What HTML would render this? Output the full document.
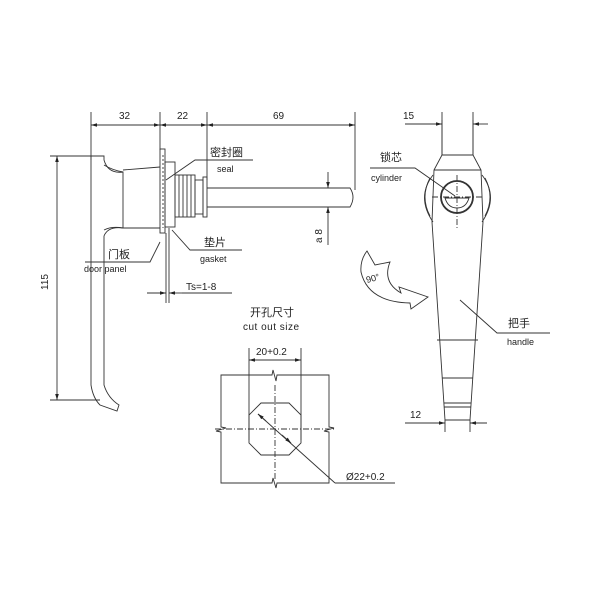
<!DOCTYPE html>
<html><head><meta charset="utf-8"><style>
html,body{margin:0;padding:0;background:#fff;}
svg{display:block;}
text{font-family:"Liberation Sans","Noto Sans CJK SC",sans-serif;fill:#222;}
</style></head><body>
<svg width="600" height="600" viewBox="0 0 600 600" xmlns="http://www.w3.org/2000/svg">
<defs>
<marker id="a" viewBox="0 0 10 6" refX="10" refY="3" markerWidth="10" markerHeight="4" orient="auto-start-reverse"><path d="M0,0 L10,3 L0,6 Z" fill="#222"/></marker>
</defs>
<g stroke="#333" stroke-width="0.9" fill="none">
<line x1="91" y1="112" x2="91" y2="160"/>
<line x1="160" y1="112" x2="160" y2="150"/>
<line x1="207" y1="112" x2="207" y2="180"/>
<line x1="355" y1="112" x2="355" y2="190"/>
<line x1="91" y1="125" x2="160" y2="125" marker-start="url(#a)" marker-end="url(#a)"/>
<line x1="160" y1="125" x2="207" y2="125" marker-start="url(#a)" marker-end="url(#a)"/>
<line x1="207" y1="125" x2="355" y2="125" marker-start="url(#a)" marker-end="url(#a)"/>
<line x1="50" y1="156" x2="92" y2="156"/>
<line x1="50" y1="400" x2="100" y2="400"/>
<line x1="57" y1="156" x2="57" y2="400" marker-start="url(#a)" marker-end="url(#a)"/>
<path d="M91,156 L91,385 Q93,398 100,405 L117,411 L119,405 Q108,398 104,385 L104,236 Q108,226 123,228 L123,172 Q108,174 104,160 L104,156 Z"/>
<path d="M104,165 Q112,170 123,172"/>
<path d="M104,230 Q112,226 123,228"/>
<path d="M123,170 L160,167 M123,228 L160,228"/>
<rect x="160" y="149" width="5" height="84"/>
<line x1="163" y1="155" x2="163" y2="228" stroke-dasharray="2,2"/>
<line x1="166" y1="233" x2="166" y2="303"/>
<line x1="169" y1="228" x2="169" y2="303"/>
<rect x="165" y="162" width="10" height="65"/>
<rect x="175" y="175" width="20" height="42"/>
<line x1="179" y1="175" x2="179" y2="217"/><line x1="183" y1="175" x2="183" y2="217"/>
<line x1="187" y1="175" x2="187" y2="217"/><line x1="191" y1="175" x2="191" y2="217"/>
<rect x="195" y="180" width="8" height="34"/>
<rect x="203" y="177" width="4" height="40"/>
<path d="M207,188 L350,188 Q356,197 350,207 L207,207"/>
<line x1="328" y1="172" x2="328" y2="188" marker-end="url(#a)"/>
<line x1="328" y1="245" x2="328" y2="207" marker-end="url(#a)"/>
<line x1="147" y1="293" x2="166" y2="293" marker-end="url(#a)"/>
<line x1="182" y1="293" x2="169" y2="293" marker-end="url(#a)"/>
<line x1="182" y1="293" x2="232" y2="293"/>
<path d="M253,160 L195,160 L166,180" /><path d="M242,250 L190,250 L172,230"/>
<path d="M85,262 L150,262 L160,242"/>
<path d="M370,168 L415,168 L455,196"/>
<path d="M550,333 L497,333 L460,300"/>
<line x1="442" y1="112" x2="442" y2="155"/>
<line x1="473" y1="112" x2="473" y2="155"/>
<line x1="405" y1="124" x2="442" y2="124"/>
<line x1="430" y1="124" x2="442" y2="124" marker-end="url(#a)"/>
<line x1="488" y1="124" x2="473" y2="124" marker-end="url(#a)"/>
<path d="M442,120 L442,155 L473,155 L473,120"/>
<path d="M442,155 L434,170 L432,222 L445,420 L470,420 L483,222 L481,170 L473,155"/>
<line x1="434" y1="170" x2="481" y2="170"/>
<path d="M433,175 Q416,197 433,222 M482,175 Q499,197 482,222"/>
<path d="M430,178 Q420,197 430,216 M485,178 Q495,197 485,216"/>
<circle cx="457" cy="197" r="16" stroke-width="1.8"/>
<path d="M445,198 L469,198 Q466,208 457,208 Q448,208 445,198 Z"/>
<line x1="457" y1="175" x2="457" y2="228" stroke-dasharray="6,2,1,2"/>
<line x1="432" y1="197" x2="482" y2="197" stroke-dasharray="6,2,1,2"/>
<line x1="437" y1="340" x2="478" y2="340"/>
<line x1="442" y1="378" x2="473" y2="378"/>
<line x1="444" y1="403" x2="471" y2="403"/>
<line x1="444" y1="407" x2="471" y2="407"/>
<line x1="445" y1="420" x2="445" y2="432"/><line x1="470" y1="420" x2="470" y2="432"/>
<line x1="405" y1="423" x2="445" y2="423"/>
<line x1="430" y1="423" x2="445" y2="423" marker-end="url(#a)"/>
<line x1="487" y1="423" x2="470" y2="423" marker-end="url(#a)"/>
<path d="M367,251 L375,265 L390,262 Q382,282 401,293 L399,287 L428,297 L411,309 L410,303 Q368,302 361,272 Q360,260 367,251 Z"/>
<line x1="249" y1="348" x2="249" y2="440"/>
<line x1="301" y1="348" x2="301" y2="440"/>
<line x1="249" y1="360" x2="301" y2="360" marker-start="url(#a)" marker-end="url(#a)"/>
<path d="M221,375 L272,375 L273,370 L276,381 L277,375 L329,375 L329,427 L334,428 L324,431 L329,432 L329,483 L277,483 L276,488 L273,478 L272,483 L221,483 L221,432 L216,431 L226,428 L221,427 Z"/>
<line x1="275" y1="385" x2="275" y2="480" stroke-dasharray="6,2,1,2"/>
<line x1="215" y1="429" x2="335" y2="429" stroke-dasharray="6,2,1,2"/>
<path d="M261,403 L289,403 L301,415 L301,443 L289,455 L261,455 L249,443 L249,415 Z"/>
<line x1="258" y1="414" x2="335" y2="483" />
<line x1="335" y1="483" x2="395" y2="483"/>
<line x1="266" y1="421" x2="258" y2="414" marker-end="url(#a)"/>
<line x1="282" y1="435" x2="291" y2="443" marker-end="url(#a)"/>
</g>
<g font-size="10">
<text x="119" y="119">32</text>
<text x="177" y="119">22</text>
<text x="273" y="119">69</text>
<text x="403" y="119">15</text>
<text x="410" y="418">12</text>
<text x="210" y="156" font-size="11">密封圈</text>
<text x="217" y="172" font-size="9">seal</text>
<text x="204" y="246" font-size="11">垫片</text>
<text x="200" y="262" font-size="9">gasket</text>
<text x="108" y="258" font-size="11">门板</text>
<text x="84" y="272" font-size="9">door panel</text>
<text x="186" y="290">Ts=1-8</text>
<text x="0" y="0" transform="translate(322,243) rotate(-90)">a 8</text>
<text x="0" y="0" transform="translate(48,290) rotate(-90)">115</text>
<text x="380" y="161" font-size="11">锁芯</text>
<text x="371" y="181" font-size="9">cylinder</text>
<text x="508" y="327" font-size="11">把手</text>
<text x="507" y="345" font-size="9">handle</text>
<text x="0" y="0" font-size="9" transform="translate(367,283) rotate(-15)">90°</text>
<text x="250" y="316" font-size="11">开孔尺寸</text>
<text x="243" y="330" font-size="10" letter-spacing="0.5">cut out size</text>
<text x="256" y="355" font-size="10">20+0.2</text>
<text x="346" y="480" font-size="10">Ø22+0.2</text>
</g>
</svg>
</body></html>
